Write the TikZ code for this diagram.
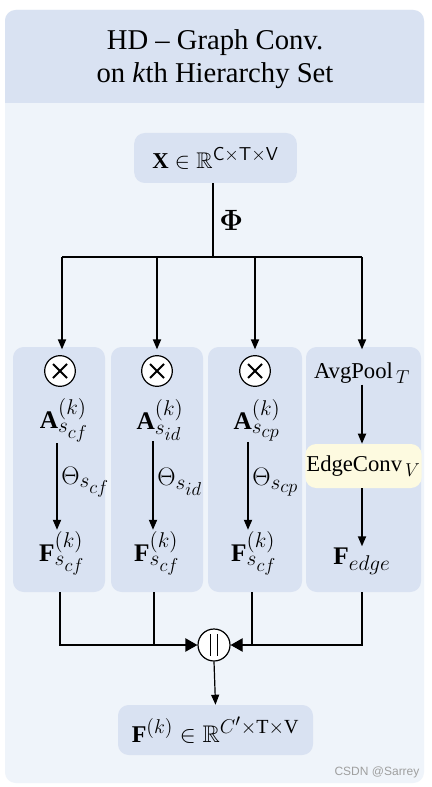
\RequirePackage{fix-cm}
\documentclass[tikz,border=0pt]{standalone}
\usepackage{amsmath, amssymb}
\usepackage{fontspec}
\setmainfont{Liberation Serif}
\newfontfamily\wmfont{Liberation Sans}
\usetikzlibrary{arrows.meta}
\DeclareMathSizes{19}{19}{16}{14}
\DeclareMathSizes{18}{18}{15}{13}
\DeclareMathSizes{17}{17}{14}{12}

\definecolor{panelbg}{RGB}{239,244,250}
\definecolor{boxbg}{RGB}{217,226,242}
\definecolor{ecbg}{RGB}{253,250,224}

\tikzset{
  blockbox/.style={fill=boxbg, rounded corners=8pt, inner sep=0pt},
  lbl/.style={inner sep=0.75pt, font=\fontsize{19}{22}\selectfont},
  smalltxt/.style={inner sep=0.75pt, font=\fontsize{17}{20}\selectfont},
  arr/.style={-{Triangle[length=7.5pt,width=6pt]}, line width=1.3pt},
  catarr/.style={-{Triangle[length=9pt,width=10pt]}, line width=0.9pt},
  opcirc/.style={circle, draw, line width=0.9pt, fill=white, minimum size=23pt, inner sep=0pt},
}

\begin{document}
\begin{tikzpicture}[x=0.75pt,y=0.75pt,yscale=-1,xscale=1]
        \useasboundingbox (0,0) rectangle (431,787);
        \fill[white] (0,0) rectangle (431,787);

        %Shape: panel and title band
        \fill[panelbg, rounded corners=8pt] (5,10) rectangle (424,783);
        \fill[boxbg] (5,103) [rounded corners=8pt] -- (5,10) -- (424,10) [sharp corners] -- (424,103) -- cycle;

        % Text Node
        \node[align=center, inner sep=0pt, font=\fontsize{21.5}{24.75}\selectfont] (title) at (215,59) {HD -- Graph Conv.\\on \textit{k}th Hierarchy Set};

        %Shape: input box
        \node[blockbox, smalltxt, minimum width=122pt, minimum height=37.5pt] (xin) at (215.5,158) {$\mathbf{X}\in\mathbb{R}^{\mathsf{C}\times\mathsf{T}\times\mathsf{V}}$};

        %Shape: column boxes
        \node[blockbox, minimum width=69pt, minimum height=183.75pt] (c1) at (59,469.5) {};
        \node[blockbox, minimum width=69pt, minimum height=183.75pt] (c2) at (157,469.5) {};
        \node[blockbox, minimum width=70.5pt, minimum height=183.75pt] (c3) at (255,469.5) {};
        \node[blockbox, minimum width=86.25pt, minimum height=183.75pt] (c4) at (363.5,469.5) {};
        \node[blockbox, smalltxt, fill=ecbg, minimum width=86.25pt, minimum height=33pt] (ec) at (363.5,466) {EdgeConv$_{\,V}$};

        %Shape: split and branches
        \coordinate (split) at (213,257);
        \coordinate (b1) at (62,257);
        \coordinate (b2) at (157,257);
        \coordinate (b3) at (255,257);
        \coordinate (b4) at (362,257);
        \draw[line width=0.9pt] (xin.south -| split) -- (split);
        \draw[line width=0.9pt] (b1) -- (b4);
        \foreach \i in {1,...,4}
          \draw[arr] (b\i) -- ([yshift=2pt]b\i |- c\i.north);
        % Text Node
        \node[inner sep=0.75pt, anchor=west, font=\fontsize{22}{24}\selectfont] (phi) at (218,220) {$\boldsymbol{\Phi}$};

        %Shape: product circles
        \node[opcirc] (o1) at (60,371) {};
        \node[opcirc] (o2) at (157,371) {};
        \node[opcirc] (o3) at (255,371) {};
        \foreach \i in {1,2,3} {
          \draw[line width=1.4pt] (o\i.center) +(-7,-7) -- +(7,7);
          \draw[line width=1.4pt] (o\i.center) +(-7,7) -- +(7,-7);
        }

        % Text Node
        \node[lbl] (a1) at (64,420) {$\mathbf{A}^{(k)}_{s_{cf}}$};
        \node[lbl] (a2) at (160,420) {$\mathbf{A}^{(k)}_{s_{id}}$};
        \node[lbl] (a3) at (257,420) {$\mathbf{A}^{(k)}_{s_{cp}}$};
        \node[lbl] (f1) at (62,553) {$\mathbf{F}^{(k)}_{s_{cf}}$};
        \node[lbl] (f2) at (157,553) {$\mathbf{F}^{(k)}_{s_{cf}}$};
        \node[lbl] (f3) at (254,553) {$\mathbf{F}^{(k)}_{s_{cf}}$};
        \node[lbl, anchor=west] (t1) at (60,482) {$\Theta_{s_{cf}}$};
        \node[lbl, anchor=west] (t2) at (156,482) {$\Theta_{s_{id}}$};
        \node[lbl, anchor=west] (t3) at (251,482) {$\Theta_{s_{cp}}$};
        \foreach \i/\ax in {1/57,2/153,3/248}
          \draw[arr] (\ax,0 |- a\i.south) -- (\ax,0 |- f\i.north);

        % Text Node
        \node[smalltxt] (avg) at (362,373) {AvgPool$_{\,T}$};
        \node[lbl] (fe) at (362,561) {$\mathbf{F}_{edge}$};
        \draw[arr] (avg.south) -- (avg.south |- ec.north);
        \draw[arr] (ec.south -| fe) -- (fe.north);

        %Shape: concatenation
        \node[opcirc, minimum size=24pt] (cat) at (214,645) {};
        \draw[line width=1.2pt] (cat.center) +(-3.5,-11) -- +(-3.5,11);
        \draw[line width=1.2pt] (cat.center) +(3.5,-11) -- +(3.5,11);
        \coordinate (d1) at (60,645);
        \coordinate (d2) at (154,645);
        \coordinate (d3) at (252,645);
        \coordinate (d4) at (362,645);
        \draw[catarr] (d1 |- c1.south) -- (d1) -- (cat.west);
        \draw[line width=0.9pt] (d2 |- c2.south) -- (d2);
        \draw[catarr] (d4 |- c4.south) -- (d4) -- (cat.east);
        \draw[line width=0.9pt] (d3 |- c3.south) -- (d3);

        %Shape: output box
        \node[blockbox, inner sep=0.75pt, font=\fontsize{18}{21}\selectfont, minimum width=146.25pt, minimum height=37.5pt] (out) at (215.5,730) {$\mathbf{F}^{(k)}\in\mathbb{R}^{C'\times\mathrm{T}\times\mathrm{V}}$};
        \draw[arr, line width=0.9pt] (cat.south) -- (out.north);

        % Text Node
        \node[inner sep=0pt, text=gray!75, font=\wmfont\fontsize{9}{10}\selectfont] (wm) at (377,772) {CSDN @Sarrey};

\end{tikzpicture}
\end{document}
